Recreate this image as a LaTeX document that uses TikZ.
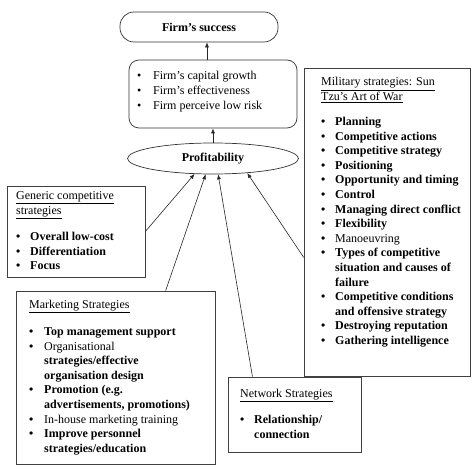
\documentclass[tikz,border=0pt]{standalone}
\usepackage{fontspec}
\setmainfont{Liberation Serif}
\usetikzlibrary{shapes.geometric,arrows.meta,shadows}

\tikzset{
  pbox/.style={draw=black!75, line width=0.7pt, fill=white,
    drop shadow={shadow xshift=1pt, shadow yshift=-1pt, fill=black!70, opacity=0.8}},
  rbox/.style={draw=black!80, line width=0.7pt, fill=white},
  txt/.style={anchor=base west, inner sep=0pt, align=left,
    font=\fontsize{12}{14.6}\selectfont},
  arr/.style={-{Latex[length=5pt,width=4pt]}, black!85, line width=0.6pt}
}
\newcommand{\bl}{\textbullet}

\begin{document}
\begin{tikzpicture}[x=1pt, y=-1pt]
  \useasboundingbox (0,0) rectangle (474,470);

  \node[rbox, rounded corners=14pt, minimum width=158pt, minimum height=30pt,
        font=\fontsize{12}{14.6}\selectfont\bfseries] (success) at (199,27) {Firm's success};
  \node[rbox, rounded corners=10pt, minimum width=168pt, minimum height=68pt] (gains) at (213,94) {};
  \node[rbox, ellipse, inner sep=0pt, minimum width=171pt, minimum height=31pt,
        font=\fontsize{12}{14.6}\selectfont\bfseries] (profit) at (213,158.5) {Profitability};

  \node[pbox, minimum width=138pt, minimum height=91pt] (generic) at (76,231.5) {};
  \node[pbox, minimum width=166pt, minimum height=308pt] (military) at (387,222) {};
  \node[pbox, minimum width=199pt, minimum height=173pt] (marketing) at (115.5,377.5) {};
  \node[pbox, minimum width=133pt, minimum height=75pt] (network) at (294.5,414.5) {};

  \node[txt] (gainsText) at (137,80) {%
    \begin{tabular}[t]{@{}p{16pt}@{}l@{}}
      \bl & Firm's capital growth\\
      \bl & Firm's effectiveness\\
      \bl & Firm perceive low risk
    \end{tabular}};

  \node[txt] (genericText) at (16,240.5) {%
    \underline{Generic competitive}\\ \underline{strategies}\\[10.4pt]
    \bfseries\begin{tabular}[t]{@{}p{14pt}@{}l@{}}
      \bl & Overall low-cost\\
      \bl & Differentiation\\
      \bl & Focus
    \end{tabular}};

  \node[txt] (militaryText) at (321,125.5) {%
    \underline{Military strategies: Sun}\\ \underline{Tzu's Art of War}\\[10.4pt]
    \bfseries\begin{tabular}[t]{@{}p{14pt}@{}l@{}}
      \bl & Planning\\
      \bl & Competitive actions\\
      \bl & Competitive strategy\\
      \bl & Positioning\\
      \bl & Opportunity and timing\\
      \bl & Control\\
      \bl & Managing direct conflict\\
      \bl & Flexibility\\
      \bl & \mdseries Manoeuvring\\
      \bl & Types of competitive\\
          & situation and causes of\\
          & failure\\
      \bl & Competitive conditions\\
          & and offensive strategy\\
      \bl & Destroying reputation\\
      \bl & Gathering intelligence
    \end{tabular}};

  \node[txt] (marketingText) at (29,335.5) {%
    \underline{Marketing Strategies}\\[11.4pt]
    \bfseries\begin{tabular}[t]{@{}p{15pt}@{}l@{}}
      \bl & Top management support\\
      \bl & \mdseries Organisational\\
          & strategies/effective\\
          & organisation design\\
      \bl & Promotion (e.g.\\
          & advertisements, promotions)\\
      \bl & \mdseries In-house marketing training\\
      \bl & Improve personnel\\
          & strategies/education
    \end{tabular}};

  \node[txt] (networkText) at (240,423.5) {%
    \underline{Network Strategies}\\[10.4pt]
    \bfseries\begin{tabular}[t]{@{}p{14pt}@{}l@{}}
      \bl & Relationship/\\
          & connection
    \end{tabular}};

  \draw[arr] (gains.100) -- (gains.100 |- success.south);
  \draw[arr] (profit) -- (gains);
  \draw[arr] (generic.east) -- (profit.220);
  \draw[arr] (marketing.60) -- (profit.245);
  \draw[arr] (network.138) -- (profit.288);
  \draw[arr] (military.203) -- (profit.337);
\end{tikzpicture}
\end{document}
